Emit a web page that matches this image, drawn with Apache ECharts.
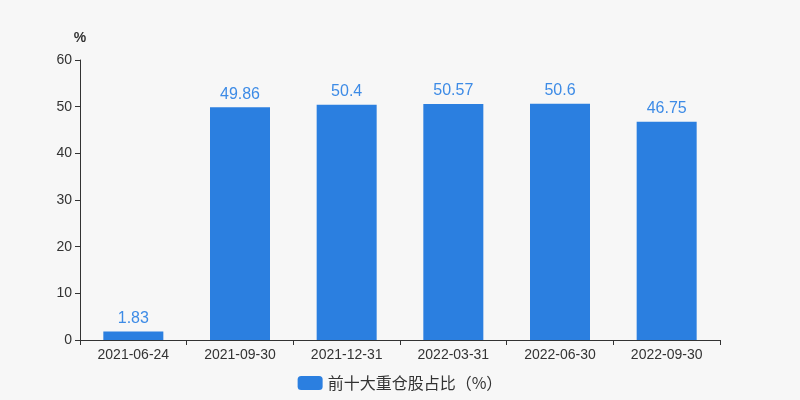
<!DOCTYPE html>
<html>
<head>
<meta charset="utf-8">
<script src="https://cdn.jsdelivr.net/npm/echarts@6/dist/echarts.min.js"></script>
<style>
  html, body { margin: 0; padding: 0; background: #f7f7f7; }
  #main { width: 800px; height: 400px; }
</style>
</head>
<body>
<div id="main"></div>
<script>
// 报告期
var dates = ['2021-06-24', '2021-09-30', '2021-12-31', '2022-03-31', '2022-06-30', '2022-09-30'];
// 前十大重仓股占比
var ratios = [1.83, 49.86, 50.4, 50.57, 50.6, 46.75];
var seriesName = '前十大重仓股占比（%）';

var chart = echarts.init(document.getElementById('main'));
var option = {
  backgroundColor: '#f7f7f7',
  textStyle: { fontFamily: 'Arial, "Liberation Sans", "Noto Sans CJK SC", sans-serif' },
  grid: { left: 80, right: 80, top: 60, bottom: 60 },
  legend: {
    bottom: 4,
    left: 'center',
    icon: 'roundRect',
    itemWidth: 25,
    itemHeight: 14,
    itemGap: 6,
    textStyle: { fontSize: 16, color: '#333', fontFamily: '"Noto Sans CJK SC", sans-serif' },
    data: [seriesName]
  },
  xAxis: {
    type: 'category',
    data: dates,
    axisLine: { lineStyle: { color: '#333' } },
    axisTick: { show: true, lineStyle: { color: '#333' } },
    axisLabel: { color: '#333', fontSize: 14, margin: 8 }
  },
  yAxis: {
    type: 'value',
    name: '%',
    nameGap: 15,
    nameTextStyle: { color: '#333', fontSize: 14, fontWeight: 'bold' },
    min: 0,
    max: 60,
    interval: 10,
    axisLine: { show: true, lineStyle: { color: '#333' } },
    axisTick: { show: true, lineStyle: { color: '#333' } },
    axisLabel: { color: '#333', fontSize: 14 },
    splitLine: { show: false }
  },
  series: [{
    name: seriesName,
    type: 'bar',
    data: ratios,
    barWidth: 60,
    itemStyle: { color: '#2b7fe0' },
    label: { show: true, position: 'top', color: '#3d8be6', fontSize: 16 }
  }]
};
chart.setOption(option);
</script>
</body>
</html>
